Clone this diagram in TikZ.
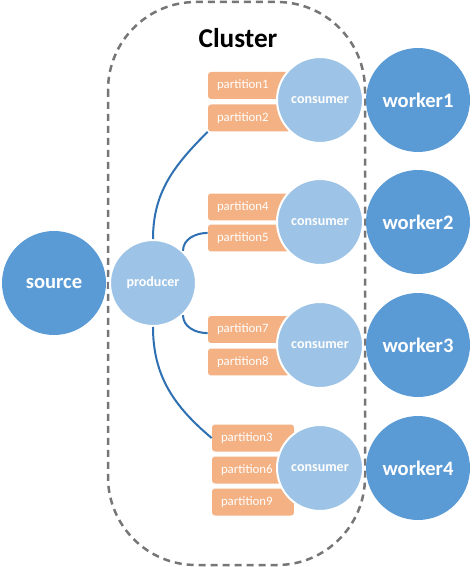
\documentclass[tikz,border=0pt]{standalone}
\usepackage{fontspec}
\setmainfont{Carlito}
\definecolor{workerblue}{RGB}{91,155,213}
\definecolor{ballblue}{RGB}{157,195,230}
\definecolor{partorange}{RGB}{244,177,131}
\definecolor{wireblue}{RGB}{46,112,178}
\definecolor{clustergray}{RGB}{118,118,118}
\tikzset{
	workerball/.style={circle,fill=workerblue,minimum size=2.08cm,inner sep=0,text=white,font=\fontsize{11.7}{14}\selectfont\bfseries},
	innerball/.style={circle,fill=ballblue,draw=white,line width=0.04cm,minimum size=1.72cm,inner sep=0,text=white,font=\fontsize{8}{10}\selectfont\bfseries},
	partbox/.style={rectangle,rounded corners=0.06cm,fill=partorange,minimum height=0.54cm,text width=1.28cm,inner xsep=0.18cm,inner ysep=0,align=left,text=white,font=\fontsize{7.3}{9}\selectfont},
	wire/.style={draw=wireblue,line width=0.04cm}
}
\begin{document}
\begin{tikzpicture}[x=0.02cm,y=0.02cm]
	\useasboundingbox (0,0) rectangle (474,-567);
	\draw[clustergray,line width=0.05cm,dash pattern=on 0.14cm off 0.1cm,rounded corners=1.76cm] (108,-2) rectangle (365,-565);
	\node[font=\fontsize{15.5}{18}\selectfont\bfseries] (title) at (238,-38) {Cluster};
	\node[workerball] (src) at (54,-283) {source};
	\node[innerball] (prod) at (153,-283) {producer};
	\foreach \i/\y in {1/100,2/222,3/345,4/468} \node[workerball] (w\i) at (418,-\y) {worker\i};
	\foreach \n/\y in {1/85.5,2/118,4/207,5/238,7/329.5,8/362} \node[partbox] (p\n) at (249,-\y) {partition\n};
	\foreach \n/\y in {3/438,6/470,9/502} \node[partbox] (p\n) at (253,-\y) {partition\n};
	\foreach \i/\y in {1/100,2/222,3/345,4/468} \node[innerball] (c\i) at (320,-\y) {consumer};
	\draw[wire] (prod.north) to[out=90,in=225] (p2.south west);
	\draw[wire] (prod.47) to[out=90,in=180] (p5.173);
	\draw[wire] (prod.-47) to[out=-90,in=180] (p7.185);
	\draw[wire] (prod.south) to[out=-90,in=140] (p3.west);
\end{tikzpicture}
\end{document}
